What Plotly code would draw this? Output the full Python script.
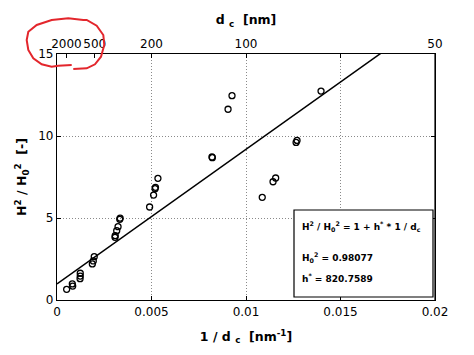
import plotly.graph_objects as go

# ---- data ----
inv_dc = [0.00051, 0.00081, 0.00083, 0.00123, 0.00123, 0.00122, 0.00187, 0.00192, 0.00197,
          0.00307, 0.00308, 0.00316, 0.00323, 0.00332, 0.00334, 0.00490, 0.00511, 0.00519,
          0.00521, 0.00534, 0.00820, 0.00822, 0.00905, 0.00926, 0.01086, 0.01143, 0.01157,
          0.01265, 0.01270, 0.01397]
h_ratio = [0.65, 0.98, 0.85, 1.63, 1.46, 1.30, 2.20, 2.38, 2.64,
           3.82, 3.92, 4.23, 4.47, 4.92, 4.99, 5.67, 6.40, 6.79,
           6.87, 7.42, 8.72, 8.68, 11.63, 12.46, 6.26, 7.21, 7.44,
           9.61, 9.73, 12.74]

H0_sq = 0.98077
h_star = 820.7589
fit_x = [0.0, 0.02]
fit_y = [H0_sq + h_star * v for v in fit_x]

x_ticks = [0, 0.005, 0.01, 0.015, 0.02]
x_tick_labels = ["0", "0.005", "0.01", "0.015", "0.02"]
y_ticks = [0, 5, 10, 15]
y_tick_labels = ["0", "5", "10", "15"]
top_dc = [2000, 500, 200, 100, 66.6667, 50]
top_labels = ["2000", "500", "200", "100", "", "50"]

# ---- layout geometry ----
W, H = 474, 355
L, R, T, B = 57, 39, 54, 55
PW, PH = W - L - R, H - T - B

def paper(px, py):
    return (px - L) / PW, (H - B - py) / PH

FONT = "DejaVu Sans"

fig = go.Figure()
fig.add_trace(go.Scatter(x=fit_x, y=fit_y, mode="lines",
                         line=dict(color="black", width=1.5),
                         hoverinfo="skip", showlegend=False))
fig.add_trace(go.Scatter(x=inv_dc, y=h_ratio, mode="markers",
                         marker=dict(symbol="circle-open", size=6, color="black",
                                     line=dict(width=1.3, color="black")),
                         showlegend=False))
fig.add_trace(go.Scatter(x=[1 / d for d in top_dc], y=[None] * len(top_dc), xaxis="x2",
                         mode="markers", hoverinfo="skip", showlegend=False))

axis_common = dict(showline=True, linecolor="black", linewidth=1.2, ticks="inside",
                   ticklen=4, tickcolor="black", zeroline=False, automargin=False,
                   tickangle=0,
                   tickfont=dict(family=FONT, size=12, color="black"))
grid = dict(showgrid=True, gridcolor="#8a8a8a", griddash="1px,2px", gridwidth=1)

fig.update_layout(
    width=W, height=H,
    margin=dict(l=L, r=R, t=T, b=B),
    paper_bgcolor="white", plot_bgcolor="white",
    font=dict(family=FONT, color="black"),
    xaxis=dict(range=[0, 0.02], tickvals=x_ticks, ticktext=x_tick_labels,
               title=dict(text="<b>1 / d <sub>c</sub>  [nm<sup>-1</sup>]</b>",
                          font=dict(family=FONT, size=12.5), standoff=14),
               **grid, **axis_common),
    xaxis2=dict(range=[0, 0.02], overlaying="x", side="top", anchor="y",
                tickvals=[1 / d for d in top_dc], ticktext=top_labels, showgrid=False,
                title=dict(text="<b>d <sub>c</sub>  [nm]</b>",
                           font=dict(family=FONT, size=12.5), standoff=9),
                **axis_common),
    yaxis=dict(range=[0, 15], tickvals=y_ticks, ticktext=y_tick_labels,
               mirror="ticks",
               title=dict(text="<b>H<sup>2</sup> / H<sub>0</sub><sup>2</sup>  [-]</b>",
                          font=dict(family=FONT, size=12.5), standoff=8),
               **grid, **axis_common),
)

# right border line
fig.add_shape(type="line", xref="paper", yref="paper", x0=1, x1=1, y0=0, y1=1,
              line=dict(color="black", width=1.2))

# text box
bx0, by0 = paper(294, 297)
bx1, by1 = paper(433, 210)
fig.add_shape(type="rect", xref="paper", yref="paper", x0=bx0, y0=by0, x1=bx1, y1=by1,
              fillcolor="white", line=dict(color="black", width=1.2), layer="above")

box_lines = [
    ("<b>H<sup>2</sup> / H<sub>0</sub><sup>2</sup> = 1 + h<sup>*</sup> * 1 / d<sub>c</sub></b>", 226),
    ("<b>H<sub>0</sub><sup>2</sup> = 0.98077</b>", 257),
    ("<b>h<sup>*</sup> = 820.7589</b>", 278),
]
for txt, py in box_lines:
    ax_, ay_ = paper(300, py)
    fig.add_annotation(text=txt, xref="paper", yref="paper", x=ax_, y=ay_,
                       xanchor="left", yanchor="middle", showarrow=False,
                       font=dict(family=FONT, size=9, color="black"))

# hand-drawn red circle mark
red_pts = [(73.3, 69), (86.7, 68.3), (95, 64.3), (101, 56.7), (104.3, 45), (103.3, 35),
           (96.7, 25.7), (86.7, 20), (83.3, 20), (68.3, 18.3), (51.7, 20), (36.7, 25),
           (28.3, 31.7), (26.7, 40), (28.3, 50), (33.3, 58.3), (41.7, 64.3), (51.7, 66.7),
           (58.3, 65.7), (71.7, 65)]
path = ""
for i, (px, py) in enumerate(red_pts):
    x_, y_ = paper(px, py)
    path += ("M" if i == 0 else "L") + f"{x_:.4f},{y_:.4f} "
fig.add_shape(type="path", xref="paper", yref="paper", path=path,
              line=dict(color="#e3262c", width=2), layer="above")

fig.write_html("out.html", config={"displayModeBar": False},
               post_script="document.body.style.margin='0';document.body.style.overflow='hidden';")
